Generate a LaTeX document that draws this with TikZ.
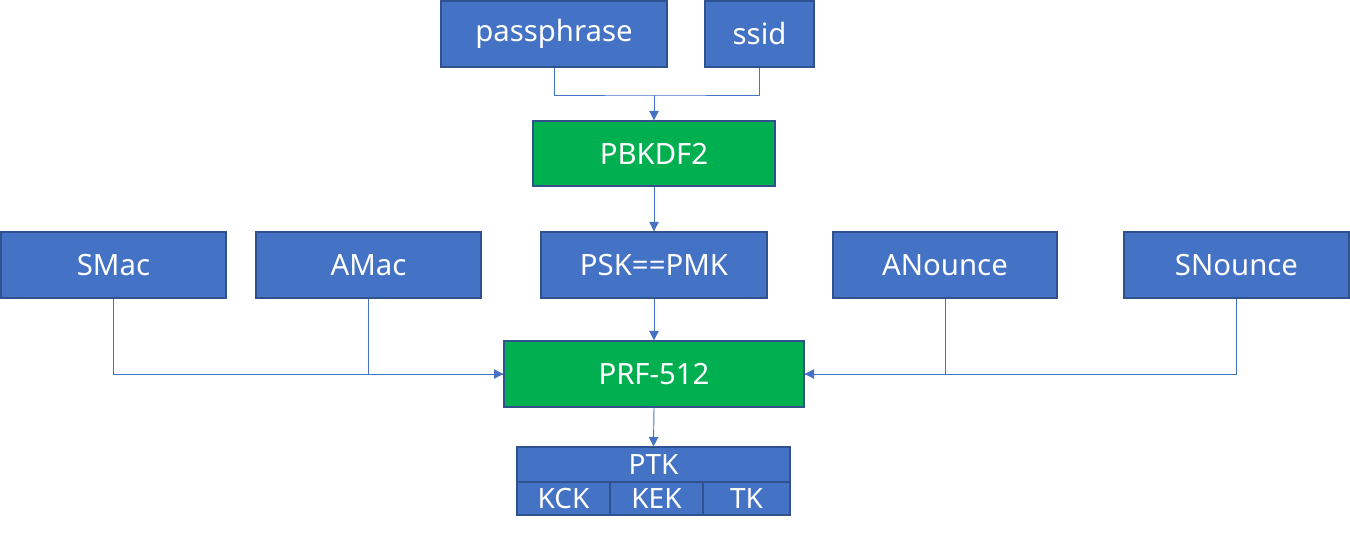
\documentclass[tikz,border=0pt]{standalone}
\usepackage{fontspec}
\setmainfont{Noto Sans}
\usetikzlibrary{arrows.meta}
\definecolor{bfill}{HTML}{4472C4}
\definecolor{bline}{HTML}{2F528F}
\definecolor{gfill}{HTML}{00B050}
\begin{document}
\begin{tikzpicture}[x=0.75pt,y=-0.75pt,
 bx/.style={draw=bline,line width=1pt,fill=bfill,text=white,inner sep=0pt,font=\fontsize{22}{24}\selectfont},
 gx/.style={bx,fill=gfill},
 cn/.style={draw=bfill,line width=0.7pt},
 ar/.style={cn,-{Triangle[length=7pt,width=7pt]}}]
\useasboundingbox (0,0) rectangle (1350,545);
\newcommand\bxat[6]{\node[#1,minimum width={(#4-#3)*0.75pt},minimum height={(#6-#5)*0.75pt}] (#2) at ({(#3+#4)/2},{(#5+#6)/2}) {};}
\bxat{bx}{pp}{441}{667}{1}{67}\node[text=white,font=\fontsize{22}{24}\selectfont] at (pp) {passphrase};
\bxat{bx}{ss}{705}{814}{1}{67}\node[text=white,font=\fontsize{22}{24}\selectfont] at (ss) {ssid};
\bxat{gx}{pb}{533}{775}{121}{186}\node[text=white,font=\fontsize{22}{24}\selectfont] at (pb) {PBKDF2};
\bxat{bx}{sm}{1}{226}{232}{298}\node[text=white,font=\fontsize{22}{24}\selectfont] at (sm) {SMac};
\bxat{bx}{am}{256}{481}{232}{298}\node[text=white,font=\fontsize{22}{24}\selectfont] at (am) {AMac};
\bxat{bx}{psk}{541}{767}{232}{298}\node[text=white,font=\fontsize{22}{24}\selectfont] at (psk) {PSK==PMK};
\bxat{bx}{an}{833}{1057}{232}{298}\node[text=white,font=\fontsize{22}{24}\selectfont] at (an) {ANounce};
\bxat{bx}{sn}{1124}{1349}{232}{298}\node[text=white,font=\fontsize{22}{24}\selectfont] at (sn) {SNounce};
\bxat{gx}{prf}{504}{804}{341}{407}\node[text=white,font=\fontsize{22}{24}\selectfont] at (prf) {PRF-512};
\bxat{bx}{ptk}{517}{790}{447}{482}\node[text=white,font=\fontsize{21}{22}\selectfont] at (ptk) {PTK};
\bxat{bx}{kck}{517}{610}{482}{515}\node[text=white,font=\fontsize{21}{22}\selectfont] at (kck) {KCK};
\bxat{bx}{kek}{610}{703}{482}{515}\node[text=white,font=\fontsize{21}{22}\selectfont] at (kek) {KEK};
\bxat{bx}{tk}{703}{790}{482}{515}\node[text=white,font=\fontsize{21}{22}\selectfont] at (tk) {TK};
\coordinate (j1) at (654,95);
\draw[cn] (pp.south) |- (j1) -| (ss.south);
\draw[ar] (j1) -- (pb.north);
\draw[ar] (pb.south) -- (psk.north);
\draw[ar] (psk.south) -- (prf.north);
\draw[ar] (prf.south) -- (ptk.north);
\draw[ar] (sm.south) |- (prf.west);
\draw[cn] (am.south) |- (prf.west);
\draw[ar] (sn.south) |- (prf.east);
\draw[cn] (an.south) |- (prf.east);
\end{tikzpicture}
\end{document}
